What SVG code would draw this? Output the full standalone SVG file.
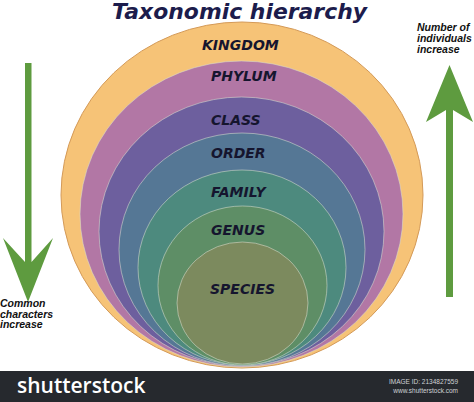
<svg xmlns="http://www.w3.org/2000/svg" width="474" height="402" viewBox="0 0 474 402">
<style>
.lvl{font-family:"DejaVu Sans",Verdana,sans-serif;font-weight:bold;font-style:italic;font-size:14px;fill:#15152e}
.side{font-family:"Liberation Sans",Arial,sans-serif;font-weight:bold;font-style:italic;font-size:10.5px;fill:#111}
.ring{stroke:#d8dccf;stroke-width:0.8;stroke-opacity:0.7}
.arrow{fill:#5e9b3f}
</style>
<rect width="474" height="402" fill="#ffffff"/>
<text x="112" y="18.5" font-family="DejaVu Sans,Verdana,sans-serif" font-weight="bold" font-style="italic" font-size="22" fill="#1c1c4c" textLength="255" lengthAdjust="spacingAndGlyphs">Taxonomic hierarchy</text>
<g id="kingdom"><ellipse cx="242" cy="195" rx="181" ry="173" fill="#f6c377" stroke="#d49a58" stroke-width="1"/><text class="lvl" x="202" y="49.5">KINGDOM</text></g>
<g id="phylum"><ellipse class="ring" cx="241.5" cy="214" rx="161.5" ry="153" fill="#b277a5"/><text class="lvl" x="211" y="81">PHYLUM</text></g>
<g id="class"><ellipse class="ring" cx="241.5" cy="231.5" rx="142.5" ry="134.5" fill="#6d5f9e"/><text class="lvl" x="211" y="125">CLASS</text></g>
<g id="order"><ellipse class="ring" cx="242" cy="249.5" rx="123" ry="116.5" fill="#557795"/><text class="lvl" x="211" y="158">ORDER</text></g>
<g id="family"><ellipse class="ring" cx="242" cy="267.5" rx="104" ry="97.5" fill="#4d8a7e"/><text class="lvl" x="211" y="196.5">FAMILY</text></g>
<g id="genus"><ellipse class="ring" cx="242.5" cy="285.5" rx="84.5" ry="79.5" fill="#5e8e66"/><text class="lvl" x="211" y="235">GENUS</text></g>
<g id="species"><ellipse class="ring" cx="242.5" cy="303" rx="65.5" ry="61" fill="#7c8a5e"/><text class="lvl" x="210" y="294">SPECIES</text></g>
<g id="connectors">
<path class="arrow" d="M25,63 H31.5 V262 L53,238 L28,302 L3,238 L25,262 Z"/>
<path class="arrow" d="M446,297 V110 L426,122 L449.5,65 L473,122 L453,110 V297 Z"/>
</g>
<g id="left-label"><text class="side" x="0" y="307">Common</text><text class="side" x="0" y="317.5">characters</text><text class="side" x="0" y="328">increase</text></g>
<g id="right-label"><text class="side" x="417" y="30.5" font-size="11">Number of</text><text class="side" x="417" y="41.5" font-size="11">individuals</text><text class="side" x="417" y="52.5" font-size="11">increase</text></g>
<g id="footer">
<rect x="0" y="371" width="474" height="31" fill="#26292e"/>
<text x="17" y="393" font-family="Open Sans,Liberation Sans,sans-serif" font-weight="600" font-size="21" fill="#ffffff">shutterstock</text>
<text x="458" y="384" text-anchor="end" font-family="Liberation Sans,sans-serif" font-size="6.5" fill="#cfd2d6">IMAGE ID: 2134827559</text>
<text x="458" y="393" text-anchor="end" font-family="Liberation Sans,sans-serif" font-size="6.5" fill="#cfd2d6">www.shutterstock.com</text>
</g>
</svg>
